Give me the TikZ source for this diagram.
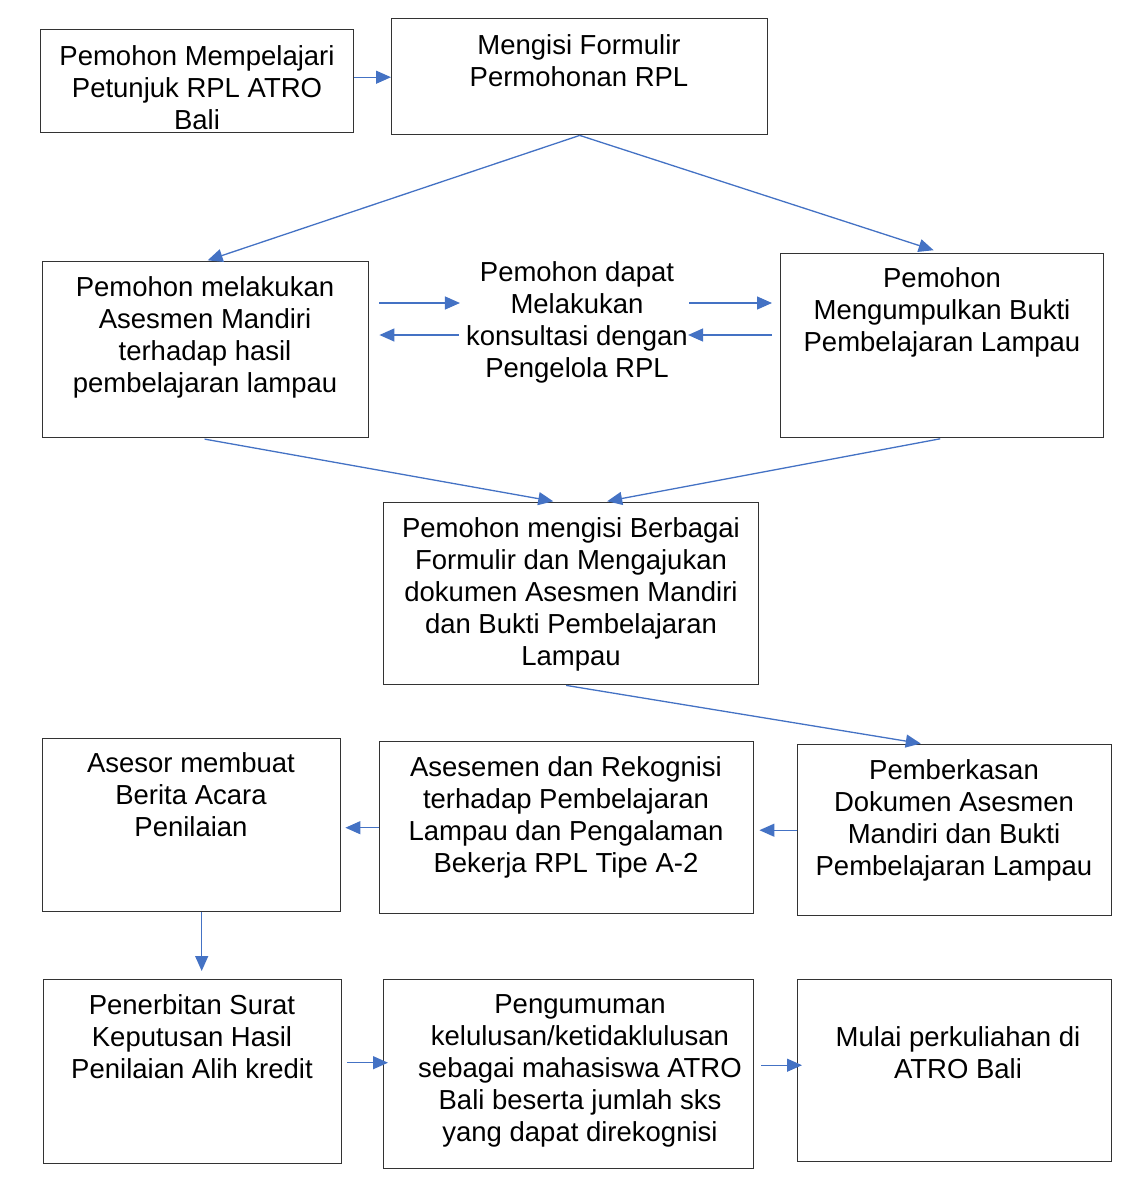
\documentclass[tikz,border=0pt]{standalone}
\usepackage{fontspec}
\setmainfont{Liberation Sans}
\usetikzlibrary{arrows.meta}
\definecolor{arrowblue}{HTML}{4472C4}
\definecolor{boxline}{HTML}{333333}
\newcommand{\flowfont}{\fontsize{27.5}{32}\selectfont}
\tikzset{
    box/.style={draw=boxline, line width=1.4pt, anchor=north west, inner sep=0pt},
    txt/.style={anchor=north, align=center, inner sep=0pt, font=\flowfont},
    arr/.style={-{Triangle[length=15pt,width=13pt]}, arrowblue, line width=1.3pt}
}
\begin{document}
\begin{tikzpicture}[x=1pt,y=-1pt]
    \useasboundingbox (0,0) rectangle (1142,1200);

    % Draw the boxes
    \node[box, minimum width=313, minimum height=103] (b1) at (40,29) {};
    \node[box, minimum width=376, minimum height=116] (b2) at (391,18) {};
    \node[box, minimum width=326, minimum height=176] (b3) at (42,261) {};
    \node[box, minimum width=323, minimum height=184] (b4) at (780,253) {};
    \node[box, minimum width=375, minimum height=182] (b5) at (383,502) {};
    \node[box, minimum width=298, minimum height=173] (b6) at (42,738) {};
    \node[box, minimum width=374, minimum height=172] (b7) at (379,741) {};
    \node[box, minimum width=314, minimum height=171] (b8) at (797,744) {};
    \node[box, minimum width=298, minimum height=184] (b9) at (43,979) {};
    \node[box, minimum width=370, minimum height=189] (b10) at (383,979) {};
    \node[box, minimum width=314, minimum height=182] (b11) at (797,979) {};

    % Texts in the boxes
    \node[txt] (t1) at (197,45) {Pemohon Mempelajari\\Petunjuk RPL ATRO\\Bali};
    \node[txt] (t2) at (579,34) {Mengisi Formulir\\Permohonan RPL};
    \node[txt] (t3) at (205,276) {Pemohon melakukan\\Asesmen Mandiri\\terhadap hasil\\pembelajaran lampau};
    \node[txt] (mid) at (577,261) {Pemohon dapat\\Melakukan\\konsultasi dengan\\Pengelola RPL};
    \node[txt] (t4) at (942,267) {Pemohon\\Mengumpulkan Bukti\\Pembelajaran Lampau};
    \node[txt] (t5) at (571,517) {Pemohon mengisi Berbagai\\Formulir dan Mengajukan\\dokumen Asesmen Mandiri\\dan Bukti Pembelajaran\\Lampau};
    \node[txt] (t6) at (191,752) {Asesor membuat\\Berita Acara\\Penilaian};
    \node[txt] (t7) at (566,756) {Asesemen dan Rekognisi\\terhadap Pembelajaran\\Lampau dan Pengalaman\\Bekerja RPL Tipe A-2};
    \node[txt] (t8) at (954,759) {Pemberkasan\\Dokumen Asesmen\\Mandiri dan Bukti\\Pembelajaran Lampau};
    \node[txt] (t9) at (192,994) {Penerbitan Surat\\Keputusan Hasil\\Penilaian Alih kredit};
    \node[txt] (t10) at (580,994) {Pengumuman\\kelulusan/ketidaklulusan\\sebagai mahasiswa ATRO\\Bali beserta jumlah sks\\yang dapat direkognisi};
    \node[txt] (t11) at (958,1026) {Mulai perkuliahan di\\ATRO Bali};

    % Rows of the consultation arrows
    \coordinate (up) at (0,303);
    \coordinate (dn) at (0,335);

    % Draw the arrows
    \draw[arr] ([yshift=4pt]b1.east) -- ([yshift=4pt]b1.east -| b2.west);
    \draw[arr, shorten >=2pt] (b2.south) -- (b3.north);
    \draw[arr, shorten >=9pt] (b2.south) -- (b4.north);
    \draw[arr, shorten <=10pt, shorten >=6pt] (b3.east |- up) -- (mid.west |- up);
    \draw[arr, shorten <=7pt, shorten >=10pt] (mid.west |- dn) -- (b3.east |- dn);
    \draw[arr, shorten <=1pt, shorten >=8pt] (mid.east |- up) -- (b4.west |- up);
    \draw[arr, shorten <=8pt] (b4.west |- dn) -- (mid.east |- dn);
    \draw[arr, shorten <=4pt, shorten >=4pt] ([xshift=-5pt]b3.south) -- ([xshift=-14pt]b5.north);
    \draw[arr, shorten <=2pt, shorten >=4pt] (b4.south) -- ([xshift=32pt]b5.north);
    \draw[arr, shorten >=3pt] ([xshift=-5pt]b5.south) -- ([xshift=-31pt]b8.north);
    \draw[arr, shorten >=4pt] (b7.west) -- (b7.west -| b6.east);
    \draw[arr, shorten >=5pt] (b8.west) -- (b8.west -| b7.east);
    \draw[arr, shorten >=8pt] ([xshift=10pt]b6.south) -- ([xshift=10pt]b6.south |- b9.north);
    \draw[arr, shorten <=5pt, shorten >=-5pt] ([yshift=9pt]b9.east) -- ([yshift=9pt]b9.east -| b10.west);
    \draw[arr, shorten <=7pt, shorten >=-5pt] ([yshift=9pt]b10.east) -- ([yshift=9pt]b10.east -| b11.west);

\end{tikzpicture}
\end{document}
